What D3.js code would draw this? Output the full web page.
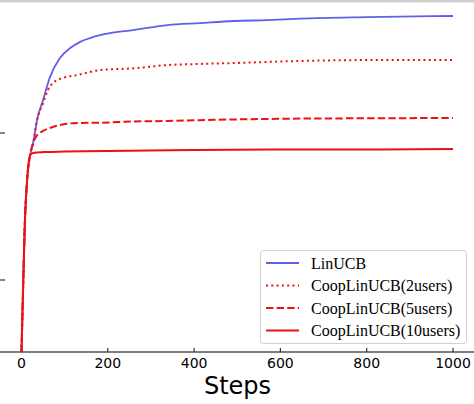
<!DOCTYPE html>
<html>
<head>
<meta charset="utf-8">
<script src="https://cdn.jsdelivr.net/npm/d3@7"></script>
<style>
  body { margin: 0; background: #fff; }
  svg { display: block; }
</style>
</head>
<body>
<svg id="chart" width="474" height="404"></svg>
<script>
// values (y in arbitrary units, hidden tick labels)
const xTicks = [0, 200, 400, 600, 800, 1000];
const yTicks = [0.5, 1.0];

const linucbSteps = [0, 3, 8, 13, 20, 27, 36, 50, 66, 89, 113, 136, 159, 182, 205, 259, 338, 414, 491, 570, 646, 800, 1000];
const linucbVals  = [0.255, 0.432, 0.704, 0.84, 0.925, 0.966, 1.044, 1.112, 1.19, 1.255, 1.289, 1.31, 1.323, 1.333, 1.34, 1.35, 1.367, 1.374, 1.381, 1.384, 1.389, 1.394, 1.398];

const coop2Steps = [0, 3, 8, 13, 20, 27, 36, 50, 61, 73, 96, 129, 182, 259, 338, 414, 491, 646, 800, 1000];
const coop2Vals  = [0.255, 0.432, 0.704, 0.84, 0.925, 0.966, 1.044, 1.102, 1.146, 1.17, 1.187, 1.197, 1.214, 1.22, 1.231, 1.235, 1.238, 1.245, 1.248, 1.248];

const coop5Steps = [0, 3, 8, 13, 20, 27, 35, 50, 66, 89, 128, 182, 259, 338, 491, 646, 800, 1000];
const coop5Vals  = [0.255, 0.432, 0.704, 0.84, 0.925, 0.966, 0.99, 1.007, 1.017, 1.027, 1.034, 1.035, 1.039, 1.041, 1.046, 1.049, 1.05, 1.051];

const coop10Steps = [0, 3, 8, 13, 20, 27, 50, 100, 200, 400, 600, 800, 1000];
const coop10Vals  = [0.255, 0.432, 0.704, 0.84, 0.925, 0.932, 0.935, 0.937, 0.939, 0.942, 0.944, 0.944, 0.946];

const names = ["LinUCB", "CoopLinUCB(2users)", "CoopLinUCB(5users)", "CoopLinUCB(10users)"];
const colors = ["#5f5fea", "#ee1111", "#ee1111", "#ee1111"];
const dashes = [null, "2,3.3", "7.4,3.2", null];

const series = [
  {steps: linucbSteps, vals: linucbVals},
  {steps: coop2Steps, vals: coop2Vals},
  {steps: coop5Steps, vals: coop5Vals},
  {steps: coop10Steps, vals: coop10Vals}
];

const svg = d3.select("#chart");

// strip at the very top of the crop
svg.append("rect").attr("x", 0).attr("y", 0).attr("width", 474).attr("height", 2.5).attr("fill", "#cfcfcf");

const x = d3.scaleLinear().domain([0, 1000]).range([21.5, 453]);
const y = d3.scaleLinear().domain([0.5, 1.0]).range([280, 133]);

// x axis
const xAxis = svg.append("g").attr("transform", "translate(0,352)");
xAxis.append("line").attr("x1", 0).attr("x2", 474).attr("y1", 0).attr("y2", 0)
  .attr("stroke", "#555").attr("stroke-width", 1.6);
xAxis.selectAll(".tk").data(xTicks).enter().append("line")
  .attr("x1", d => x(d)).attr("x2", d => x(d)).attr("y1", 0).attr("y2", -4)
  .attr("stroke", "#333").attr("stroke-width", 1.2);
xAxis.selectAll(".lb").data(xTicks).enter().append("text")
  .attr("x", d => x(d)).attr("y", 16)
  .attr("text-anchor", "middle")
  .attr("font-family", "DejaVu Sans")
  .attr("font-size", 14)
  .text(d => d);

// y ticks only (labels are cut off)
svg.selectAll(".ytk").data(yTicks).enter().append("line")
  .attr("x1", 0).attr("x2", 5).attr("y1", d => y(d)).attr("y2", d => y(d))
  .attr("stroke", "#333").attr("stroke-width", 1.2);

svg.append("text")
  .attr("x", 237.5).attr("y", 394)
  .attr("text-anchor", "middle")
  .attr("font-family", "DejaVu Sans")
  .attr("font-size", 24)
  .text("Steps");

const line = d3.line()
  .x(d => x(d[0]))
  .y(d => y(d[1]))
  .curve(d3.curveMonotoneX);

// blue under, reds on top
series.forEach((s, i) => {
  const pts = s.steps.map((st, j) => [st, s.vals[j]]);
  svg.append("path")
    .datum(pts)
    .attr("d", line)
    .attr("fill", "none")
    .attr("stroke", colors[i])
    .attr("stroke-width", i === 0 ? 1.8 : 2)
    .attr("stroke-dasharray", dashes[i]);
});

// legend
const lg = svg.append("g");
lg.append("rect")
  .attr("x", 260.5).attr("y", 250.5).attr("width", 206).attr("height", 93)
  .attr("rx", 3).attr("fill", "#fff").attr("stroke", "#d0d0d0");
names.forEach((n, i) => {
  const yy = 263 + i * 22.5;
  lg.append("line")
    .attr("x1", 266).attr("x2", 299).attr("y1", yy).attr("y2", yy)
    .attr("stroke", colors[i]).attr("stroke-width", i === 0 ? 1.8 : 2)
    .attr("stroke-dasharray", dashes[i]);
  lg.append("text")
    .attr("x", 311).attr("y", yy + 5.5)
    .attr("font-family", "Liberation Serif")
    .attr("font-size", 16)
    .text(n);
});
</script>
</body>
</html>
